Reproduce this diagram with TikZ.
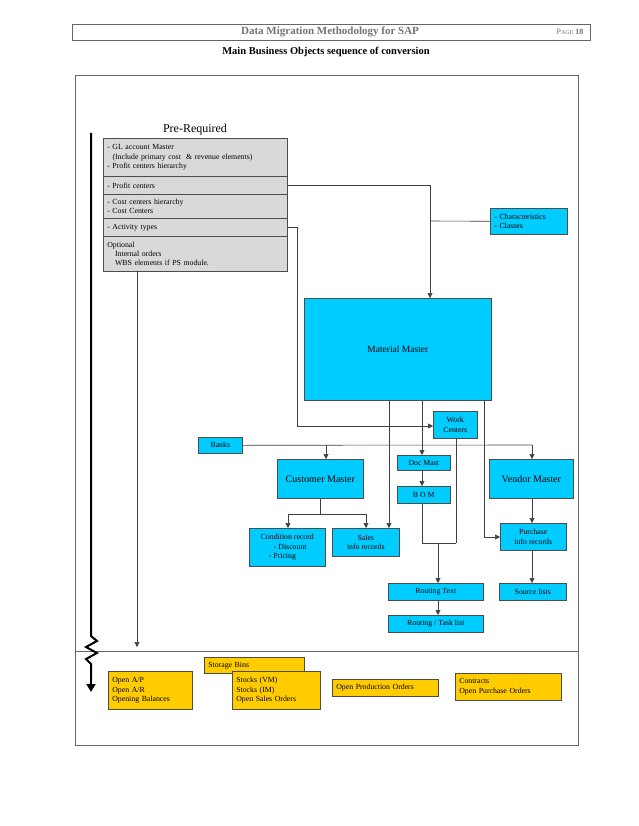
\documentclass[tikz,border=0pt]{standalone}
\usepackage{fontspec}
\setmainfont{Liberation Serif}
\usetikzlibrary{arrows.meta}
\definecolor{objblue}{HTML}{00CCFF}
\definecolor{pregray}{HTML}{D9D9D9}
\definecolor{loadyellow}{HTML}{FFCC00}
\tikzset{
  box/.style={draw=black!70, line width=0.6pt, anchor=north west, inner sep=0pt, font=\fontsize{7.8}{9.2}\selectfont},
  obj/.style={box, fill=objblue, align=center},
  pre/.style={box, fill=pregray, align=left},
  load/.style={box, fill=loadyellow, align=left},
  conn/.style={draw=black!75, line width=0.6pt, -{Triangle[length=5pt,width=5pt]}},
  link/.style={draw=black!75, line width=0.6pt}
}
\newcommand{\ibox}[7]{% style, name, x, y, w, h, text
  \node[#1, minimum width=#5pt, minimum height=#6pt] (#2) at (#3,#4) {#7};}
\newcommand{\lbox}[7]{% left aligned text
  \node[#1, align=left, minimum width=#5pt, minimum height=#6pt, text width=#5pt-8pt, inner xsep=4pt] (#2) at (#3,#4) {#7};}
\begin{document}
\begin{tikzpicture}[x=1pt,y=-1pt]
  \useasboundingbox (0,0) rectangle (638,826);
  % header
  \draw[black!60] (72,24) rectangle (590,40);
  \node[text=black!55, font=\bfseries\fontsize{11}{12}\selectfont] (title) at (330,32) {Data Migration Methodology for SAP};
  \node[text=black!55, font=\fontsize{8}{9}\selectfont, anchor=east] (page) at (587,32) {P{\fontsize{6}{7}\selectfont AGE} \textbf{18}};
  \node[font=\bfseries\fontsize{10.5}{12}\selectfont] (sub) at (326,52) {Main Business Objects sequence of conversion};
  % frame
  \draw[black!60] (75,75) rectangle (578,745);
  \draw[black!60] (75,651) -- (578,651);
  % time axis
  \draw[line width=2pt] (91,133) -- (91,636) -- (97,641) -- (86,647) -- (97,653) -- (86,659) -- (91,664)
    -- (91,680);
  \draw[line width=2pt, -{Triangle[length=8pt,width=9pt]}] (91,678) -- (91,692);
  % pre-required
  \node[font=\fontsize{12}{14}\selectfont] (prereq) at (195,130) {Pre-Required};
  \lbox{pre}{gl}{103}{138}{184}{38}{- GL account Master\\\ \ (Include primary cost \ \& revenue elements)\\- Profit centers hierarchy}
  \lbox{pre}{pc}{103}{176}{184}{18}{- Profit centers}
  \lbox{pre}{cc}{103}{194}{184}{24}{- Cost centers hierarchy\\- Cost Centers}
  \lbox{pre}{act}{103}{218}{184}{18}{- Activity types}
  \lbox{pre}{opt}{103}{236}{184}{35}{Optional\\\ \ \ Internal orders\\\ \ \ WBS elements if PS module.}
  \coordinate (openin) at (137,647);
  \draw[conn] (137,271) -- (openin);
  % masters
  \lbox{obj}{char}{490}{208}{77}{26}{- Characteristics\\- Classes}
  \node[obj, minimum width=187pt, minimum height=102pt, font=\fontsize{9.5}{11}\selectfont] (mat) at (304,298) {Material Master};
  \ibox{obj}{wc}{433}{411}{44}{27}{Work\\Centers}
  \ibox{obj}{banks}{198}{437}{44}{16}{Banks}
  \node[obj, minimum width=86pt, minimum height=39pt, font=\fontsize{10}{12}\selectfont] (cust) at (277,459) {Customer Master};
  \node[obj, minimum width=84pt, minimum height=39pt, font=\fontsize{10}{12}\selectfont] (vend) at (489,459) {Vendor Master};
  \ibox{obj}{doc}{397}{455}{53}{15}{Doc Mast}
  \ibox{obj}{bom}{397}{486}{53}{17}{B O M}
  \ibox{obj}{cond}{249}{528}{76}{38}{Condition record\\\ \ \ - Discount\\- Pricing\ \ \ \ \ \ }
  \ibox{obj}{sales}{332}{528}{67}{28}{Sales\\info records}
  \ibox{obj}{purch}{500}{523}{66}{27}{Purchase\\info records}
  \ibox{obj}{rtext}{388}{583}{95}{17}{Routing Text}
  \ibox{obj}{rtask}{388}{615}{95}{17}{Routing / Task list}
  \ibox{obj}{src}{499}{583}{67}{17}{Source lists}
  % connectors
  \draw[conn] (pc.east) -| (mat.north -| 430,0);
  \draw[link] (char.west) -- (430,221);
  \draw[conn] (act.east) -| (297,426) -- (wc.west |- 0,426);
  \draw[link] (banks.east) -- (532,445);
  \draw[conn] (326,445) -- (cust.north -| 326,0);
  \draw[conn] (532,445) -- (vend.north -| 532,0);
  \draw[conn] (mat.south -| 389,0) -- (sales.north -| 389,0);
  \draw[conn] (mat.south -| 422,0) -- (doc.north -| 422,0);
  \draw[conn] (mat.south -| 484,0) |- (purch.west |- 0,537);
  \draw[conn] (doc.south -| 422,0) -- (bom.north -| 422,0);
  \draw[link] (cust.south -| 320,0) -- (320,514);
  \draw[conn] (320,514) -| (cond.north -| 288,0);
  \draw[conn] (320,514) -| (sales.north -| 366,0);
  \draw[link] (bom.south -| 422,0) |- (456,543);
  \draw[link] (wc.south -| 456,0) -- (456,543);
  \draw[conn] (438,543) -- (rtext.north -| 438,0);
  \draw[conn] (rtext.south -| 438,0) -- (rtask.north -| 438,0);
  \draw[conn] (vend.south -| 532,0) -- (purch.north -| 532,0);
  \draw[conn] (purch.south -| 532,0) -- (src.north -| 532,0);
  % loads
  \lbox{load}{bal}{108}{671}{84}{38}{Open A/P\\Open A/R\\Opening Balances}
  \lbox{load}{bins}{204}{657}{100}{16}{Storage Bins}
  \lbox{load}{stock}{232}{671}{88}{38}{Stocks (VM)\\Stocks (IM)\\Open Sales Orders}
  \lbox{load}{prod}{332}{679}{106}{17}{Open Production Orders}
  \lbox{load}{purchord}{455}{673}{106}{27}{Contracts\\Open Purchase Orders}
\end{tikzpicture}
\end{document}
